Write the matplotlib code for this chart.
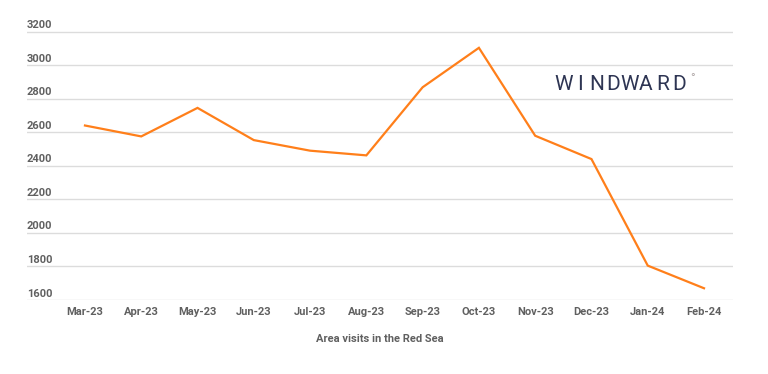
import numpy as np
import matplotlib
matplotlib.use('Agg')
import matplotlib.pyplot as plt
import matplotlib.transforms as mtransforms

months = ['Mar-23', 'Apr-23', 'May-23', 'Jun-23', 'Jul-23', 'Aug-23',
          'Sep-23', 'Oct-23', 'Nov-23', 'Dec-23', 'Jan-24', 'Feb-24']
visits = [2640, 2575, 2745, 2553, 2490, 2462, 2868, 3103, 2579, 2440, 1805, 1670]
y_ticks = [1600, 1800, 2000, 2200, 2400, 2600, 2800, 3000, 3200]

plt.rcParams['font.family'] = ['Roboto', 'DejaVu Sans']
txt_col = '#606060'

fig = plt.figure(figsize=(7.68, 3.74), dpi=100)
ax = fig.add_axes([27 / 768, 74 / 374, 706 / 768, 276 / 374])

x = np.arange(len(months))
ax.plot(x, visits, color='#ff7f1a', lw=1.6, solid_joinstyle='miter', zorder=3)

ax.set_xlim(-1.03, 11.515)
ax.set_ylim(1600, 3245)

for s in ax.spines.values():
    s.set_visible(False)
for v in y_ticks:
    ax.axhline(v, color='#dcdcdc', lw=1.0, zorder=1)

# y labels sit above the gridlines at the left end
trans = mtransforms.offset_copy(
    mtransforms.blended_transform_factory(ax.transAxes, ax.transData),
    fig=fig, x=0, y=1, units='points')
for v in y_ticks:
    ax.text(0.0, v, str(v), transform=trans, ha='left', va='bottom',
            fontsize=8, color=txt_col, fontweight='bold')
ax.set_yticks([])

ax.set_xticks(x)
ax.set_xticklabels(months, fontsize=8, color=txt_col, fontweight='bold')
ax.tick_params(axis='x', length=0, pad=5)
ax.set_xlabel('Area visits in the Red Sea', fontsize=8, color=txt_col,
              fontweight='bold', labelpad=12)

# logo
logo = 'WINDWARD'
x0, x1 = 555, 687
step = (x1 - x0) / len(logo)
for i, ch in enumerate(logo):
    fig.text((x0 + step * (i + 0.5)) / 768, 1 - 84.5 / 374, ch, ha='center', va='center',
             fontsize=15, color='#2e3553', fontweight='normal')
fig.text(693 / 768, 1 - 79 / 374, '°', ha='center', va='center', fontsize=9, color='#b0a8a8')

fig.savefig('out.png', dpi=100)
